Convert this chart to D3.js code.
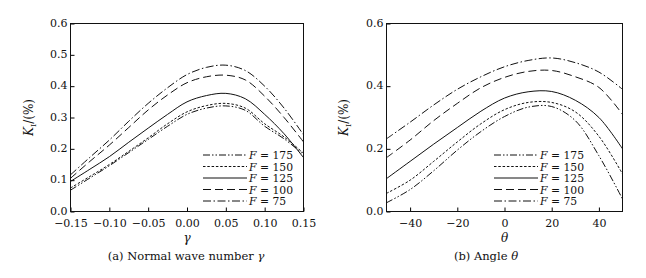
<!DOCTYPE html>
<html>
<head>
<meta charset="utf-8">
<script src="https://cdn.jsdelivr.net/npm/d3@7"></script>
<style>
body { margin: 0; background: #fff; }
svg text { font-family: "DejaVu Serif", "Liberation Serif", serif; fill: #111; }
</style>
</head>
<body>
<svg id="chart" width="646" height="278"></svg>
<script>
// legend order, top to bottom
var forces = [175, 150, 125, 100, 75];

// panel (a): normal wave number gamma
var gammaX = [-0.15, -0.125, -0.10, -0.075, -0.05, -0.025, 0, 0.025, 0.05, 0.075, 0.10, 0.125, 0.15];
var gammaK175 = [0.068, 0.107, 0.146, 0.188, 0.230, 0.272, 0.310, 0.330, 0.337, 0.323, 0.272, 0.232, 0.182];
var gammaK150 = [0.075, 0.112, 0.150, 0.192, 0.235, 0.280, 0.318, 0.338, 0.345, 0.330, 0.280, 0.238, 0.186];
var gammaK125 = [0.096, 0.135, 0.175, 0.221, 0.266, 0.310, 0.350, 0.370, 0.377, 0.360, 0.310, 0.248, 0.172];
var gammaK100 = [0.106, 0.160, 0.212, 0.268, 0.324, 0.372, 0.411, 0.430, 0.435, 0.420, 0.368, 0.300, 0.222];
var gammaK75  = [0.117, 0.173, 0.228, 0.288, 0.345, 0.395, 0.437, 0.460, 0.467, 0.450, 0.400, 0.330, 0.245];
var gammaTicksX = [-0.15, -0.10, -0.05, 0, 0.05, 0.10, 0.15];
var gammaTicksY = [0, 0.1, 0.2, 0.3, 0.4, 0.5, 0.6];

// panel (b): angle theta
var thetaX = [-50, -40, -30, -20, -10, 0, 10, 20, 30, 40, 50];
var thetaK175 = [0.028, 0.070, 0.130, 0.196, 0.255, 0.303, 0.333, 0.335, 0.290, 0.178, 0.040];
var thetaK150 = [0.058, 0.100, 0.160, 0.222, 0.280, 0.325, 0.348, 0.348, 0.318, 0.240, 0.120];
var thetaK125 = [0.105, 0.160, 0.215, 0.268, 0.320, 0.362, 0.382, 0.383, 0.355, 0.300, 0.200];
var thetaK100 = [0.172, 0.228, 0.290, 0.345, 0.395, 0.428, 0.447, 0.450, 0.430, 0.396, 0.310];
var thetaK75  = [0.232, 0.285, 0.340, 0.390, 0.430, 0.462, 0.482, 0.490, 0.475, 0.445, 0.390];
var thetaTicksX = [-40, -20, 0, 20, 40];
var thetaTicksY = [0, 0.2, 0.4, 0.6];

var dashes = {175: "7,2,1.5,2,1.5,2", 150: "2.5,1.8", 125: null, 100: "8,4", 75: "8,2.5,1.5,2.5"};

var svg = d3.select("#chart");

function drawPanel(p) {
    var x = d3.scaleLinear().domain(p.xDomain).range([p.left, p.right]);
    var y = d3.scaleLinear().domain([0, 0.6]).range([211.5, 23.5]);
    var g = svg.append("g");

    g.append("g")
        .attr("transform", "translate(0,211.5)")
        .call(d3.axisBottom(x).tickValues(p.ticksX).tickSizeInner(-4).tickSizeOuter(0).tickPadding(8)
            .tickFormat(p.fmtX))
        .call(function(a){
            a.select(".domain").remove();
            a.selectAll("text").attr("font-size", 11);
        });
    g.append("g")
        .attr("transform", "translate(" + p.left + ",0)")
        .call(d3.axisLeft(y).tickValues(p.ticksY).tickSizeInner(-4).tickSizeOuter(0).tickPadding(3)
            .tickFormat(d3.format(".1f")))
        .call(function(a){
            a.select(".domain").remove();
            a.selectAll("text").attr("font-size", 11).attr("dy", "0.25em");
        });

    g.append("rect")
        .attr("x", p.left).attr("y", 23.5)
        .attr("width", p.right - p.left).attr("height", 188)
        .attr("fill", "none").attr("stroke", "#111").attr("stroke-width", 1);

    var line = d3.line()
        .x(function(d){ return x(d[0]); })
        .y(function(d){ return y(d[1]); })
        .curve(d3.curveCatmullRom.alpha(0.5));

    forces.forEach(function(f){
        var pts = p.xs.map(function(v, i){ return [v, p.series[f][i]]; });
        g.append("path")
            .attr("d", line(pts))
            .attr("fill", "none")
            .attr("stroke", "#111")
            .attr("stroke-width", 1)
            .attr("stroke-dasharray", dashes[f]);
    });

    // legend
    forces.forEach(function(f, i){
        var ly = 155 + i * 11.5;
        g.append("line")
            .attr("x1", p.legX).attr("x2", p.legX + 44)
            .attr("y1", ly).attr("y2", ly)
            .attr("stroke", "#111").attr("stroke-width", 1)
            .attr("stroke-dasharray", dashes[f]);
        var t = g.append("text").attr("x", p.legX + 46).attr("y", ly + 4).attr("font-size", 10.8);
        t.append("tspan").attr("font-style", "italic").text("F");
        t.append("tspan").text(" = " + f);
    });

    // y label
    var yl = g.append("text")
        .attr("transform", "translate(" + p.yLabX + ",117.5) rotate(-90)")
        .attr("text-anchor", "middle").attr("font-size", 12);
    yl.append("tspan").attr("font-style", "italic").text("K");
    yl.append("tspan").attr("font-size", 8).attr("dy", 3).text("I");
    yl.append("tspan").attr("dy", -3).text("/(%)");

    g.append("text")
        .attr("x", (p.left + p.right) / 2).attr("y", 242)
        .attr("text-anchor", "middle").attr("font-size", 12).attr("font-style", "italic")
        .text(p.xLabel);

    var cap = g.append("text")
        .attr("x", p.capX).attr("y", 260)
        .attr("text-anchor", "middle").attr("font-size", 11.5);
    cap.append("tspan").text(p.caption);
    cap.append("tspan").attr("font-style", "italic").text(p.xLabel);
}

drawPanel({
    left: 70.5, right: 303.5, xDomain: [-0.15, 0.15],
    xs: gammaX,
    series: {175: gammaK175, 150: gammaK150, 125: gammaK125, 100: gammaK100, 75: gammaK75},
    ticksX: gammaTicksX, ticksY: gammaTicksY,
    fmtX: function(d){ return d3.format(".2f")(d).replace("-", "\u2212"); },
    legX: 203, yLabX: 33, xLabel: "\u03b3", caption: "(a) Normal wave number ", capX: 186
});

drawPanel({
    left: 386.5, right: 622.5, xDomain: [-50, 50],
    xs: thetaX,
    series: {175: thetaK175, 150: thetaK150, 125: thetaK125, 100: thetaK100, 75: thetaK75},
    ticksX: thetaTicksX, ticksY: thetaTicksY,
    fmtX: function(d){ return String(d).replace("-", "\u2212"); },
    legX: 494, yLabX: 348, xLabel: "\u03b8", caption: "(b) Angle ", capX: 486
});
</script>
</body>
</html>
